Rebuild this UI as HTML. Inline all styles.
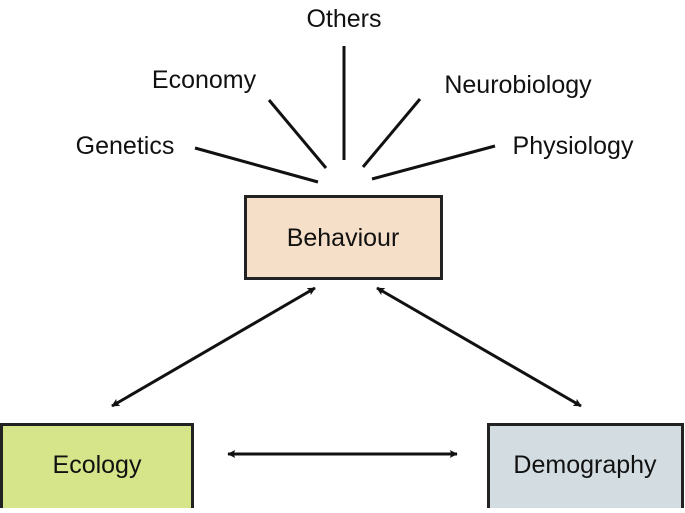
<!DOCTYPE html>
<html><head><style>
body{margin:0;background:#fff}
svg text{font-family:"Liberation Sans",sans-serif;font-size:25px;fill:#111}
</style></head><body>
<svg width="685" height="508" viewBox="0 0 685 508" xmlns="http://www.w3.org/2000/svg">
<defs>
<marker id="a" viewBox="0 0 10 10" refX="9" refY="5" markerWidth="8" markerHeight="8" markerUnits="userSpaceOnUse" orient="auto-start-reverse">
<path d="M0,0 L10,5 L0,10 L2,5 z" fill="#111"/></marker>
</defs>
<g stroke="#111" stroke-width="3">
<line x1="195" y1="148" x2="318" y2="182"/>
<line x1="269" y1="100" x2="326" y2="168"/>
<line x1="344" y1="46" x2="344" y2="160"/>
<line x1="420" y1="99" x2="363" y2="167"/>
<line x1="495" y1="146" x2="372" y2="179"/>
</g>
<g stroke="#111" stroke-width="3" fill="none">
<line x1="315" y1="288" x2="112" y2="406" marker-start="url(#a)" marker-end="url(#a)" style="marker-start:url(#a)"/>
<line x1="377" y1="288" x2="581" y2="406" marker-start="url(#a)" marker-end="url(#a)"/>
<line x1="228" y1="454" x2="457" y2="454" marker-start="url(#a)" marker-end="url(#a)"/>
</g>
<rect x="245.5" y="196.5" width="196" height="82" fill="#f6dfc8" stroke="#222" stroke-width="3"/>
<rect x="1.5" y="424.5" width="191" height="85" fill="#d6e48a" stroke="#222" stroke-width="3"/>
<rect x="488.5" y="424.5" width="194" height="85" fill="#d3dde1" stroke="#222" stroke-width="3"/>
<text x="343" y="246" text-anchor="middle">Behaviour</text>
<text x="97" y="473" text-anchor="middle">Ecology</text>
<text x="585" y="473" text-anchor="middle">Demography</text>
<text x="344" y="27" text-anchor="middle">Others</text>
<text x="204" y="88" text-anchor="middle">Economy</text>
<text x="125" y="154" text-anchor="middle">Genetics</text>
<text x="518" y="93" text-anchor="middle">Neurobiology</text>
<text x="573" y="154" text-anchor="middle">Physiology</text>
</svg>
</body></html>
